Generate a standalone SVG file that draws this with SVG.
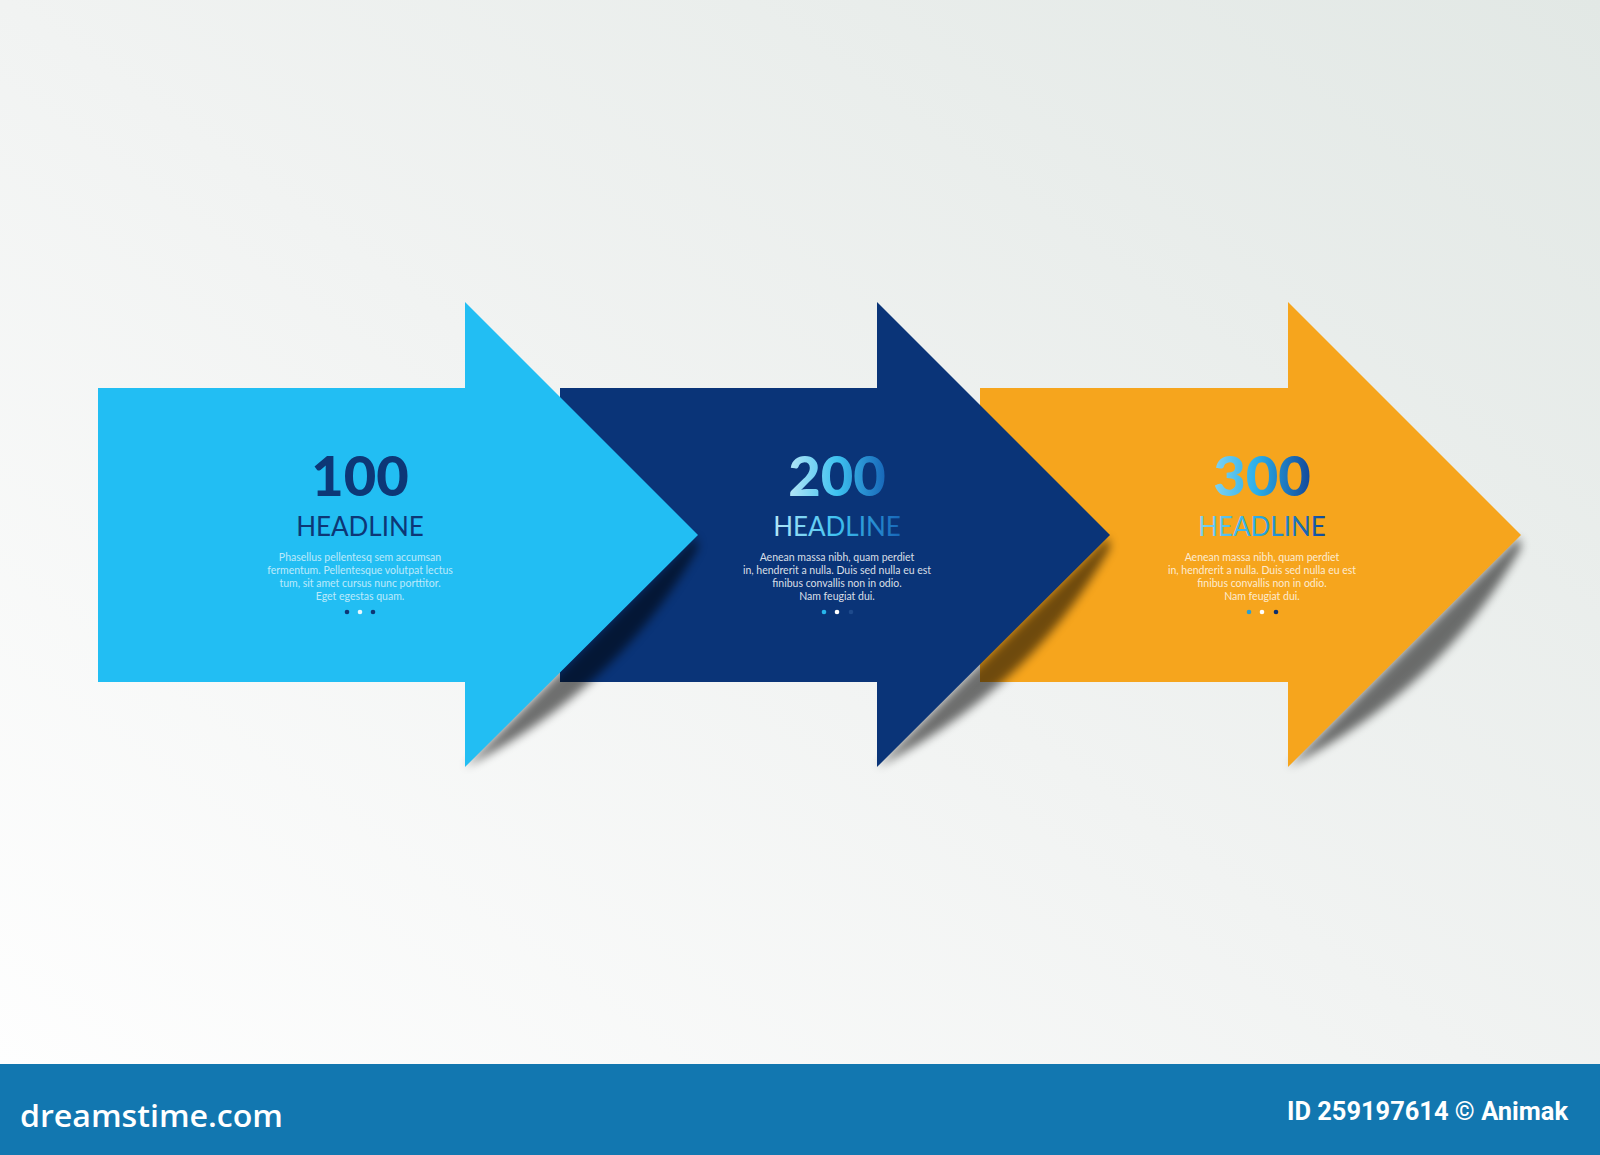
<svg xmlns="http://www.w3.org/2000/svg" width="1600" height="1155" viewBox="0 0 1600 1155">
<defs>
<linearGradient id="bg" x1="0" y1="1" x2="1" y2="0">
<stop offset="0" stop-color="#ffffff"/>
<stop offset="0.5" stop-color="#f1f3f2"/>
<stop offset="1" stop-color="#e2e8e5"/>
</linearGradient>
<linearGradient id="g200" x1="0" y1="0" x2="1" y2="0">
<stop offset="0" stop-color="#b5e6f7"/>
<stop offset="0.5" stop-color="#3ec2f0"/>
<stop offset="1" stop-color="#1766b8"/>
</linearGradient>
<linearGradient id="g300" x1="0" y1="0" x2="1" y2="0">
<stop offset="0" stop-color="#7fd3f3"/>
<stop offset="0.45" stop-color="#2aaee8"/>
<stop offset="1" stop-color="#12489a"/>
</linearGradient>
<filter id="blur" x="-20%" y="-20%" width="140%" height="140%">
<feGaussianBlur stdDeviation="5"/>
</filter>
<style>
.num{font-family:Lato,"Liberation Sans",sans-serif;font-weight:900;font-size:56px;text-anchor:middle}
.head{font-family:Lato,"Liberation Sans",sans-serif;font-weight:400;font-size:26px;text-anchor:middle}
.body{font-family:Lato,"Liberation Sans",sans-serif;font-size:10.5px;text-anchor:middle}
.shadow{fill:#000;filter:url(#blur)}
</style>
</defs>
<rect width="1600" height="1155" fill="url(#bg)"/>

<g id="arrow-300">
<path class="shadow" opacity="0.55" d="M1519 537 L1288 767 Q1440 690 1521 548 Z"/>
<path d="M980 388 H1288 V302 L1521 535 L1288 767 V682 H980 Z" fill="#f6a51d"/>
<text class="num" x="1262" y="496" fill="url(#g300)">300</text>
<text class="head" x="1262" y="536" fill="url(#g300)">HEADLINE</text>
<g class="body" fill="#ffffff" fill-opacity="0.8">
<text x="1262" y="561">Aenean massa nibh, quam perdiet</text>
<text x="1262" y="574">in, hendrerit a nulla. Duis sed nulla eu est</text>
<text x="1262" y="587">finibus convallis non in odio.</text>
<text x="1262" y="600">Nam feugiat dui.</text>
</g>
<circle cx="1249" cy="612" r="2.3" fill="#2a9fd0"/>
<circle cx="1262" cy="612" r="2.3" fill="#ffffff"/>
<circle cx="1276" cy="612" r="2.3" fill="#0c2f6e"/>
</g>

<g id="arrow-200">
<path class="shadow" opacity="0.55" d="M1108 537 L877 767 Q1029 690 1110 548 Z"/>
<path d="M560 388 H877 V302 L1110 535 L877 767 V682 H560 Z" fill="#0a3478"/>
<text class="num" x="837" y="496" fill="url(#g200)">200</text>
<text class="head" x="837" y="536" fill="url(#g200)">HEADLINE</text>
<g class="body" fill="#ffffff" fill-opacity="0.85">
<text x="837" y="561">Aenean massa nibh, quam perdiet</text>
<text x="837" y="574">in, hendrerit a nulla. Duis sed nulla eu est</text>
<text x="837" y="587">finibus convallis non in odio.</text>
<text x="837" y="600">Nam feugiat dui.</text>
</g>
<circle cx="824" cy="612" r="2.3" fill="#27b6ec"/>
<circle cx="837" cy="612" r="2.3" fill="#ffffff"/>
<circle cx="851" cy="612" r="2.3" fill="#1e4a8c"/>
</g>

<g id="arrow-100">
<path class="shadow" opacity="0.55" d="M696 537 L465 767 Q617 690 698 548 Z"/>
<path d="M98 388 H465 V302 L698 535 L465 767 V682 H98 Z" fill="#22bef3"/>
<text class="num" x="360" y="496" fill="#0d3776">100</text>
<text class="head" x="360" y="536" fill="#0d3776">HEADLINE</text>
<g class="body" fill="#ffffff" fill-opacity="0.7">
<text x="360" y="561">Phasellus pellentesq sem accumsan</text>
<text x="360" y="574">fermentum. Pellentesque volutpat lectus</text>
<text x="360" y="587">tum, sit amet cursus nunc porttitor.</text>
<text x="360" y="600">Eget egestas quam.</text>
</g>
<circle cx="347" cy="612" r="2.3" fill="#0d3776"/>
<circle cx="360" cy="612" r="2.3" fill="#e6f8ff"/>
<circle cx="373" cy="612" r="2.3" fill="#0d3776"/>
</g>

<g id="connectors"></g>

<g id="footer">
<rect x="0" y="1064" width="1600" height="91" fill="#1277b0"/>
<text x="20" y="1127" font-family="'Open Sans','Liberation Sans',sans-serif" font-size="31" font-weight="600" fill="#ffffff" textLength="263" lengthAdjust="spacingAndGlyphs">dreamstime.com</text>
<text x="1287" y="1120" font-family="Roboto,'Liberation Sans',sans-serif" font-size="26" font-weight="700" fill="#ffffff" textLength="281" lengthAdjust="spacingAndGlyphs">ID 259197614 © Animak</text>
</g>
</svg>
